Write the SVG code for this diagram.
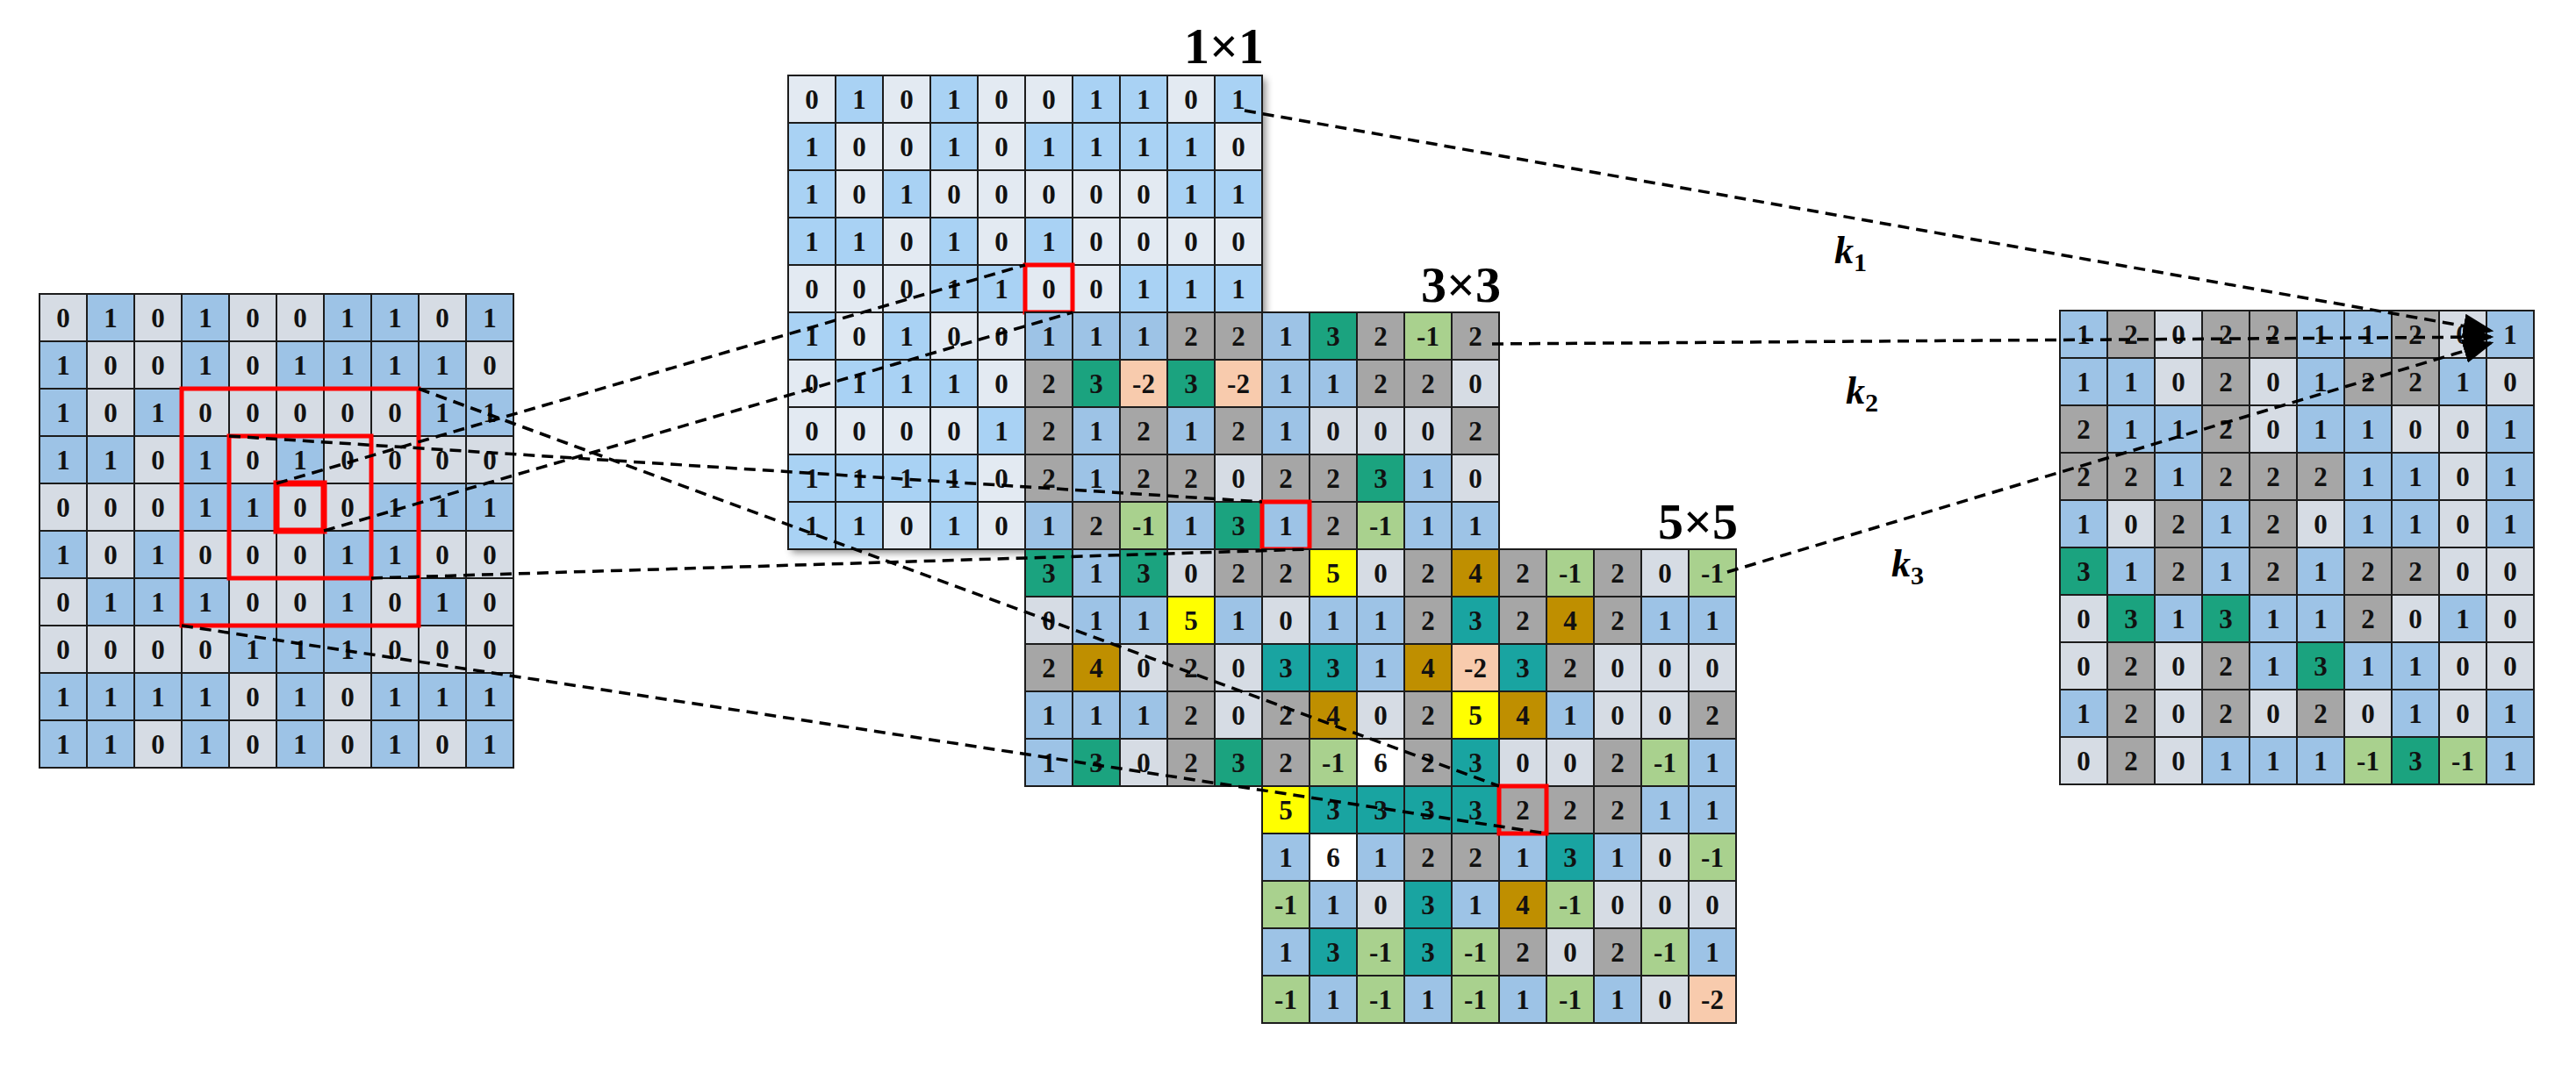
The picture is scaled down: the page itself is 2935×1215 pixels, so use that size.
<svg xmlns="http://www.w3.org/2000/svg" width="2935" height="1215" viewBox="0 0 2935 1215">
<style>
.grid rect{width:54px;height:54px;stroke:#1c1c1c;stroke-width:2}
.grid text{font-family:"Liberation Serif",serif;font-weight:bold;font-size:31px;text-anchor:middle;fill:#111}
.z{fill:#D6DCE4}.o{fill:#9DC3E6}.t{fill:#A6A6A6}.g{fill:#1BA37F}.q{fill:#19A4A1}.m{fill:#A9D18E}.p{fill:#F8CBAD}.f{fill:#BF8F00}.y{fill:#FFFF00}.w{fill:#FFFFFF}
.z2{fill:#E3EAF2}.o2{fill:#A9D2F4}
.title{font-family:"Liberation Serif",serif;font-weight:bold;font-size:58px;text-anchor:end;fill:#000}
.k{font-family:"Liberation Serif",serif;font-weight:bold;font-style:italic;font-size:44px;fill:#000}
.sub{font-style:normal;font-size:30px}
.red{fill:none;stroke:#FF0000;stroke-width:5}
.conn path{fill:none;stroke:#000;stroke-width:3.5;stroke-dasharray:13 8}
</style>
<defs>
<filter id="sh" x="-5%" y="-5%" width="115%" height="115%"><feDropShadow dx="4" dy="4" stdDeviation="4" flood-color="#000" flood-opacity="0.45"/></filter>
<marker id="ar" markerWidth="10" markerHeight="8" refX="9" refY="4" orient="auto" markerUnits="strokeWidth"><path d="M0,0 L10,4 L0,8 z" fill="#000"/></marker>
</defs>

<g id="input" class="grid" transform="translate(45,335)">
<rect class="z" x="0" y="0"/><rect class="o" x="54" y="0"/><rect class="z" x="108" y="0"/><rect class="o" x="162" y="0"/><rect class="z" x="216" y="0"/><rect class="z" x="270" y="0"/><rect class="o" x="324" y="0"/><rect class="o" x="378" y="0"/><rect class="z" x="432" y="0"/><rect class="o" x="486" y="0"/>
<rect class="o" x="0" y="54"/><rect class="z" x="54" y="54"/><rect class="z" x="108" y="54"/><rect class="o" x="162" y="54"/><rect class="z" x="216" y="54"/><rect class="o" x="270" y="54"/><rect class="o" x="324" y="54"/><rect class="o" x="378" y="54"/><rect class="o" x="432" y="54"/><rect class="z" x="486" y="54"/>
<rect class="o" x="0" y="108"/><rect class="z" x="54" y="108"/><rect class="o" x="108" y="108"/><rect class="z" x="162" y="108"/><rect class="z" x="216" y="108"/><rect class="z" x="270" y="108"/><rect class="z" x="324" y="108"/><rect class="z" x="378" y="108"/><rect class="o" x="432" y="108"/><rect class="o" x="486" y="108"/>
<rect class="o" x="0" y="162"/><rect class="o" x="54" y="162"/><rect class="z" x="108" y="162"/><rect class="o" x="162" y="162"/><rect class="z" x="216" y="162"/><rect class="o" x="270" y="162"/><rect class="z" x="324" y="162"/><rect class="z" x="378" y="162"/><rect class="z" x="432" y="162"/><rect class="z" x="486" y="162"/>
<rect class="z" x="0" y="216"/><rect class="z" x="54" y="216"/><rect class="z" x="108" y="216"/><rect class="o" x="162" y="216"/><rect class="o" x="216" y="216"/><rect class="z" x="270" y="216"/><rect class="z" x="324" y="216"/><rect class="o" x="378" y="216"/><rect class="o" x="432" y="216"/><rect class="o" x="486" y="216"/>
<rect class="o" x="0" y="270"/><rect class="z" x="54" y="270"/><rect class="o" x="108" y="270"/><rect class="z" x="162" y="270"/><rect class="z" x="216" y="270"/><rect class="z" x="270" y="270"/><rect class="o" x="324" y="270"/><rect class="o" x="378" y="270"/><rect class="z" x="432" y="270"/><rect class="z" x="486" y="270"/>
<rect class="z" x="0" y="324"/><rect class="o" x="54" y="324"/><rect class="o" x="108" y="324"/><rect class="o" x="162" y="324"/><rect class="z" x="216" y="324"/><rect class="z" x="270" y="324"/><rect class="o" x="324" y="324"/><rect class="z" x="378" y="324"/><rect class="o" x="432" y="324"/><rect class="z" x="486" y="324"/>
<rect class="z" x="0" y="378"/><rect class="z" x="54" y="378"/><rect class="z" x="108" y="378"/><rect class="z" x="162" y="378"/><rect class="o" x="216" y="378"/><rect class="o" x="270" y="378"/><rect class="o" x="324" y="378"/><rect class="z" x="378" y="378"/><rect class="z" x="432" y="378"/><rect class="z" x="486" y="378"/>
<rect class="o" x="0" y="432"/><rect class="o" x="54" y="432"/><rect class="o" x="108" y="432"/><rect class="o" x="162" y="432"/><rect class="z" x="216" y="432"/><rect class="o" x="270" y="432"/><rect class="z" x="324" y="432"/><rect class="o" x="378" y="432"/><rect class="o" x="432" y="432"/><rect class="o" x="486" y="432"/>
<rect class="o" x="0" y="486"/><rect class="o" x="54" y="486"/><rect class="z" x="108" y="486"/><rect class="o" x="162" y="486"/><rect class="z" x="216" y="486"/><rect class="o" x="270" y="486"/><rect class="z" x="324" y="486"/><rect class="o" x="378" y="486"/><rect class="z" x="432" y="486"/><rect class="o" x="486" y="486"/>
<text x="27" y="38">0</text><text x="81" y="38">1</text><text x="135" y="38">0</text><text x="189" y="38">1</text><text x="243" y="38">0</text><text x="297" y="38">0</text><text x="351" y="38">1</text><text x="405" y="38">1</text><text x="459" y="38">0</text><text x="513" y="38">1</text>
<text x="27" y="92">1</text><text x="81" y="92">0</text><text x="135" y="92">0</text><text x="189" y="92">1</text><text x="243" y="92">0</text><text x="297" y="92">1</text><text x="351" y="92">1</text><text x="405" y="92">1</text><text x="459" y="92">1</text><text x="513" y="92">0</text>
<text x="27" y="146">1</text><text x="81" y="146">0</text><text x="135" y="146">1</text><text x="189" y="146">0</text><text x="243" y="146">0</text><text x="297" y="146">0</text><text x="351" y="146">0</text><text x="405" y="146">0</text><text x="459" y="146">1</text><text x="513" y="146">1</text>
<text x="27" y="200">1</text><text x="81" y="200">1</text><text x="135" y="200">0</text><text x="189" y="200">1</text><text x="243" y="200">0</text><text x="297" y="200">1</text><text x="351" y="200">0</text><text x="405" y="200">0</text><text x="459" y="200">0</text><text x="513" y="200">0</text>
<text x="27" y="254">0</text><text x="81" y="254">0</text><text x="135" y="254">0</text><text x="189" y="254">1</text><text x="243" y="254">1</text><text x="297" y="254">0</text><text x="351" y="254">0</text><text x="405" y="254">1</text><text x="459" y="254">1</text><text x="513" y="254">1</text>
<text x="27" y="308">1</text><text x="81" y="308">0</text><text x="135" y="308">1</text><text x="189" y="308">0</text><text x="243" y="308">0</text><text x="297" y="308">0</text><text x="351" y="308">1</text><text x="405" y="308">1</text><text x="459" y="308">0</text><text x="513" y="308">0</text>
<text x="27" y="362">0</text><text x="81" y="362">1</text><text x="135" y="362">1</text><text x="189" y="362">1</text><text x="243" y="362">0</text><text x="297" y="362">0</text><text x="351" y="362">1</text><text x="405" y="362">0</text><text x="459" y="362">1</text><text x="513" y="362">0</text>
<text x="27" y="416">0</text><text x="81" y="416">0</text><text x="135" y="416">0</text><text x="189" y="416">0</text><text x="243" y="416">1</text><text x="297" y="416">1</text><text x="351" y="416">1</text><text x="405" y="416">0</text><text x="459" y="416">0</text><text x="513" y="416">0</text>
<text x="27" y="470">1</text><text x="81" y="470">1</text><text x="135" y="470">1</text><text x="189" y="470">1</text><text x="243" y="470">0</text><text x="297" y="470">1</text><text x="351" y="470">0</text><text x="405" y="470">1</text><text x="459" y="470">1</text><text x="513" y="470">1</text>
<text x="27" y="524">1</text><text x="81" y="524">1</text><text x="135" y="524">0</text><text x="189" y="524">1</text><text x="243" y="524">0</text><text x="297" y="524">1</text><text x="351" y="524">0</text><text x="405" y="524">1</text><text x="459" y="524">0</text><text x="513" y="524">1</text>
<rect class="red" x="162" y="108" style="width:270px;height:270px;stroke:#FF0000;stroke-width:5"/>
<rect class="red" x="216" y="162" style="width:162px;height:162px;stroke:#FF0000;stroke-width:5"/>
<rect class="red" x="270" y="216" style="width:54px;height:54px;stroke:#FF0000;stroke-width:7"/>
</g>

<g id="conv1x1" class="grid" transform="translate(898,86)">
<rect x="0" y="0" style="width:540px;height:540px;fill:#fff;stroke:none" filter="url(#sh)"/>
<rect class="z2" x="0" y="0"/><rect class="o2" x="54" y="0"/><rect class="z2" x="108" y="0"/><rect class="o2" x="162" y="0"/><rect class="z2" x="216" y="0"/><rect class="z2" x="270" y="0"/><rect class="o2" x="324" y="0"/><rect class="o2" x="378" y="0"/><rect class="z2" x="432" y="0"/><rect class="o2" x="486" y="0"/>
<rect class="o2" x="0" y="54"/><rect class="z2" x="54" y="54"/><rect class="z2" x="108" y="54"/><rect class="o2" x="162" y="54"/><rect class="z2" x="216" y="54"/><rect class="o2" x="270" y="54"/><rect class="o2" x="324" y="54"/><rect class="o2" x="378" y="54"/><rect class="o2" x="432" y="54"/><rect class="z2" x="486" y="54"/>
<rect class="o2" x="0" y="108"/><rect class="z2" x="54" y="108"/><rect class="o2" x="108" y="108"/><rect class="z2" x="162" y="108"/><rect class="z2" x="216" y="108"/><rect class="z2" x="270" y="108"/><rect class="z2" x="324" y="108"/><rect class="z2" x="378" y="108"/><rect class="o2" x="432" y="108"/><rect class="o2" x="486" y="108"/>
<rect class="o2" x="0" y="162"/><rect class="o2" x="54" y="162"/><rect class="z2" x="108" y="162"/><rect class="o2" x="162" y="162"/><rect class="z2" x="216" y="162"/><rect class="o2" x="270" y="162"/><rect class="z2" x="324" y="162"/><rect class="z2" x="378" y="162"/><rect class="z2" x="432" y="162"/><rect class="z2" x="486" y="162"/>
<rect class="z2" x="0" y="216"/><rect class="z2" x="54" y="216"/><rect class="z2" x="108" y="216"/><rect class="o2" x="162" y="216"/><rect class="o2" x="216" y="216"/><rect class="z2" x="270" y="216"/><rect class="z2" x="324" y="216"/><rect class="o2" x="378" y="216"/><rect class="o2" x="432" y="216"/><rect class="o2" x="486" y="216"/>
<rect class="o2" x="0" y="270"/><rect class="z2" x="54" y="270"/><rect class="o2" x="108" y="270"/><rect class="z2" x="162" y="270"/><rect class="z2" x="216" y="270"/>
<rect class="z2" x="0" y="324"/><rect class="o2" x="54" y="324"/><rect class="o2" x="108" y="324"/><rect class="o2" x="162" y="324"/><rect class="z2" x="216" y="324"/>
<rect class="z2" x="0" y="378"/><rect class="z2" x="54" y="378"/><rect class="z2" x="108" y="378"/><rect class="z2" x="162" y="378"/><rect class="o2" x="216" y="378"/>
<rect class="o2" x="0" y="432"/><rect class="o2" x="54" y="432"/><rect class="o2" x="108" y="432"/><rect class="o2" x="162" y="432"/><rect class="z2" x="216" y="432"/>
<rect class="o2" x="0" y="486"/><rect class="o2" x="54" y="486"/><rect class="z2" x="108" y="486"/><rect class="o2" x="162" y="486"/><rect class="z2" x="216" y="486"/>
<text x="27" y="38">0</text><text x="81" y="38">1</text><text x="135" y="38">0</text><text x="189" y="38">1</text><text x="243" y="38">0</text><text x="297" y="38">0</text><text x="351" y="38">1</text><text x="405" y="38">1</text><text x="459" y="38">0</text><text x="513" y="38">1</text>
<text x="27" y="92">1</text><text x="81" y="92">0</text><text x="135" y="92">0</text><text x="189" y="92">1</text><text x="243" y="92">0</text><text x="297" y="92">1</text><text x="351" y="92">1</text><text x="405" y="92">1</text><text x="459" y="92">1</text><text x="513" y="92">0</text>
<text x="27" y="146">1</text><text x="81" y="146">0</text><text x="135" y="146">1</text><text x="189" y="146">0</text><text x="243" y="146">0</text><text x="297" y="146">0</text><text x="351" y="146">0</text><text x="405" y="146">0</text><text x="459" y="146">1</text><text x="513" y="146">1</text>
<text x="27" y="200">1</text><text x="81" y="200">1</text><text x="135" y="200">0</text><text x="189" y="200">1</text><text x="243" y="200">0</text><text x="297" y="200">1</text><text x="351" y="200">0</text><text x="405" y="200">0</text><text x="459" y="200">0</text><text x="513" y="200">0</text>
<text x="27" y="254">0</text><text x="81" y="254">0</text><text x="135" y="254">0</text><text x="189" y="254">1</text><text x="243" y="254">1</text><text x="297" y="254">0</text><text x="351" y="254">0</text><text x="405" y="254">1</text><text x="459" y="254">1</text><text x="513" y="254">1</text>
<text x="27" y="308">1</text><text x="81" y="308">0</text><text x="135" y="308">1</text><text x="189" y="308">0</text><text x="243" y="308">0</text>
<text x="27" y="362">0</text><text x="81" y="362">1</text><text x="135" y="362">1</text><text x="189" y="362">1</text><text x="243" y="362">0</text>
<text x="27" y="416">0</text><text x="81" y="416">0</text><text x="135" y="416">0</text><text x="189" y="416">0</text><text x="243" y="416">1</text>
<text x="27" y="470">1</text><text x="81" y="470">1</text><text x="135" y="470">1</text><text x="189" y="470">1</text><text x="243" y="470">0</text>
<text x="27" y="524">1</text><text x="81" y="524">1</text><text x="135" y="524">0</text><text x="189" y="524">1</text><text x="243" y="524">0</text>
<rect x="270" y="216" style="fill:none;stroke:#FF0000;stroke-width:5"/>
</g>
<text id="t1" class="title" x="1440" y="72">1×1</text>

<g id="conv3x3" class="grid" transform="translate(1168,356)">
<rect class="o" x="0" y="0"/><rect class="o" x="54" y="0"/><rect class="o" x="108" y="0"/><rect class="t" x="162" y="0"/><rect class="t" x="216" y="0"/><rect class="o" x="270" y="0"/><rect class="g" x="324" y="0"/><rect class="t" x="378" y="0"/><rect class="m" x="432" y="0"/><rect class="t" x="486" y="0"/>
<rect class="t" x="0" y="54"/><rect class="g" x="54" y="54"/><rect class="p" x="108" y="54"/><rect class="g" x="162" y="54"/><rect class="p" x="216" y="54"/><rect class="o" x="270" y="54"/><rect class="o" x="324" y="54"/><rect class="t" x="378" y="54"/><rect class="t" x="432" y="54"/><rect class="z" x="486" y="54"/>
<rect class="t" x="0" y="108"/><rect class="o" x="54" y="108"/><rect class="t" x="108" y="108"/><rect class="o" x="162" y="108"/><rect class="t" x="216" y="108"/><rect class="o" x="270" y="108"/><rect class="z" x="324" y="108"/><rect class="z" x="378" y="108"/><rect class="z" x="432" y="108"/><rect class="t" x="486" y="108"/>
<rect class="t" x="0" y="162"/><rect class="o" x="54" y="162"/><rect class="t" x="108" y="162"/><rect class="t" x="162" y="162"/><rect class="z" x="216" y="162"/><rect class="t" x="270" y="162"/><rect class="t" x="324" y="162"/><rect class="g" x="378" y="162"/><rect class="o" x="432" y="162"/><rect class="z" x="486" y="162"/>
<rect class="o" x="0" y="216"/><rect class="t" x="54" y="216"/><rect class="m" x="108" y="216"/><rect class="o" x="162" y="216"/><rect class="g" x="216" y="216"/><rect class="o" x="270" y="216"/><rect class="t" x="324" y="216"/><rect class="m" x="378" y="216"/><rect class="o" x="432" y="216"/><rect class="o" x="486" y="216"/>
<rect class="g" x="0" y="270"/><rect class="o" x="54" y="270"/><rect class="g" x="108" y="270"/><rect class="z" x="162" y="270"/><rect class="t" x="216" y="270"/>
<rect class="z" x="0" y="324"/><rect class="o" x="54" y="324"/><rect class="o" x="108" y="324"/><rect class="y" x="162" y="324"/><rect class="o" x="216" y="324"/>
<rect class="t" x="0" y="378"/><rect class="f" x="54" y="378"/><rect class="z" x="108" y="378"/><rect class="t" x="162" y="378"/><rect class="z" x="216" y="378"/>
<rect class="o" x="0" y="432"/><rect class="o" x="54" y="432"/><rect class="o" x="108" y="432"/><rect class="t" x="162" y="432"/><rect class="z" x="216" y="432"/>
<rect class="o" x="0" y="486"/><rect class="g" x="54" y="486"/><rect class="z" x="108" y="486"/><rect class="t" x="162" y="486"/><rect class="g" x="216" y="486"/>
<text x="27" y="38">1</text><text x="81" y="38">1</text><text x="135" y="38">1</text><text x="189" y="38">2</text><text x="243" y="38">2</text><text x="297" y="38">1</text><text x="351" y="38">3</text><text x="405" y="38">2</text><text x="459" y="38">-1</text><text x="513" y="38">2</text>
<text x="27" y="92">2</text><text x="81" y="92">3</text><text x="135" y="92">-2</text><text x="189" y="92">3</text><text x="243" y="92">-2</text><text x="297" y="92">1</text><text x="351" y="92">1</text><text x="405" y="92">2</text><text x="459" y="92">2</text><text x="513" y="92">0</text>
<text x="27" y="146">2</text><text x="81" y="146">1</text><text x="135" y="146">2</text><text x="189" y="146">1</text><text x="243" y="146">2</text><text x="297" y="146">1</text><text x="351" y="146">0</text><text x="405" y="146">0</text><text x="459" y="146">0</text><text x="513" y="146">2</text>
<text x="27" y="200">2</text><text x="81" y="200">1</text><text x="135" y="200">2</text><text x="189" y="200">2</text><text x="243" y="200">0</text><text x="297" y="200">2</text><text x="351" y="200">2</text><text x="405" y="200">3</text><text x="459" y="200">1</text><text x="513" y="200">0</text>
<text x="27" y="254">1</text><text x="81" y="254">2</text><text x="135" y="254">-1</text><text x="189" y="254">1</text><text x="243" y="254">3</text><text x="297" y="254">1</text><text x="351" y="254">2</text><text x="405" y="254">-1</text><text x="459" y="254">1</text><text x="513" y="254">1</text>
<text x="27" y="308">3</text><text x="81" y="308">1</text><text x="135" y="308">3</text><text x="189" y="308">0</text><text x="243" y="308">2</text>
<text x="27" y="362">0</text><text x="81" y="362">1</text><text x="135" y="362">1</text><text x="189" y="362">5</text><text x="243" y="362">1</text>
<text x="27" y="416">2</text><text x="81" y="416">4</text><text x="135" y="416">0</text><text x="189" y="416">2</text><text x="243" y="416">0</text>
<text x="27" y="470">1</text><text x="81" y="470">1</text><text x="135" y="470">1</text><text x="189" y="470">2</text><text x="243" y="470">0</text>
<text x="27" y="524">1</text><text x="81" y="524">3</text><text x="135" y="524">0</text><text x="189" y="524">2</text><text x="243" y="524">3</text>
<rect x="270" y="216" style="fill:none;stroke:#FF0000;stroke-width:5"/>
</g>
<text id="t3" class="title" x="1710" y="344">3×3</text>

<g id="conv5x5" class="grid" transform="translate(1438,626)">
<rect class="t" x="0" y="0"/><rect class="y" x="54" y="0"/><rect class="z" x="108" y="0"/><rect class="t" x="162" y="0"/><rect class="f" x="216" y="0"/><rect class="t" x="270" y="0"/><rect class="m" x="324" y="0"/><rect class="t" x="378" y="0"/><rect class="z" x="432" y="0"/><rect class="m" x="486" y="0"/>
<rect class="z" x="0" y="54"/><rect class="o" x="54" y="54"/><rect class="o" x="108" y="54"/><rect class="t" x="162" y="54"/><rect class="q" x="216" y="54"/><rect class="t" x="270" y="54"/><rect class="f" x="324" y="54"/><rect class="t" x="378" y="54"/><rect class="o" x="432" y="54"/><rect class="o" x="486" y="54"/>
<rect class="q" x="0" y="108"/><rect class="q" x="54" y="108"/><rect class="o" x="108" y="108"/><rect class="f" x="162" y="108"/><rect class="p" x="216" y="108"/><rect class="q" x="270" y="108"/><rect class="t" x="324" y="108"/><rect class="z" x="378" y="108"/><rect class="z" x="432" y="108"/><rect class="z" x="486" y="108"/>
<rect class="t" x="0" y="162"/><rect class="f" x="54" y="162"/><rect class="z" x="108" y="162"/><rect class="t" x="162" y="162"/><rect class="y" x="216" y="162"/><rect class="f" x="270" y="162"/><rect class="o" x="324" y="162"/><rect class="z" x="378" y="162"/><rect class="z" x="432" y="162"/><rect class="t" x="486" y="162"/>
<rect class="t" x="0" y="216"/><rect class="m" x="54" y="216"/><rect class="w" x="108" y="216"/><rect class="t" x="162" y="216"/><rect class="q" x="216" y="216"/><rect class="z" x="270" y="216"/><rect class="z" x="324" y="216"/><rect class="t" x="378" y="216"/><rect class="m" x="432" y="216"/><rect class="o" x="486" y="216"/>
<rect class="y" x="0" y="270"/><rect class="q" x="54" y="270"/><rect class="q" x="108" y="270"/><rect class="q" x="162" y="270"/><rect class="q" x="216" y="270"/><rect class="t" x="270" y="270"/><rect class="t" x="324" y="270"/><rect class="t" x="378" y="270"/><rect class="o" x="432" y="270"/><rect class="o" x="486" y="270"/>
<rect class="o" x="0" y="324"/><rect class="w" x="54" y="324"/><rect class="o" x="108" y="324"/><rect class="t" x="162" y="324"/><rect class="t" x="216" y="324"/><rect class="o" x="270" y="324"/><rect class="q" x="324" y="324"/><rect class="o" x="378" y="324"/><rect class="z" x="432" y="324"/><rect class="m" x="486" y="324"/>
<rect class="m" x="0" y="378"/><rect class="o" x="54" y="378"/><rect class="z" x="108" y="378"/><rect class="q" x="162" y="378"/><rect class="o" x="216" y="378"/><rect class="f" x="270" y="378"/><rect class="m" x="324" y="378"/><rect class="z" x="378" y="378"/><rect class="z" x="432" y="378"/><rect class="z" x="486" y="378"/>
<rect class="o" x="0" y="432"/><rect class="q" x="54" y="432"/><rect class="m" x="108" y="432"/><rect class="q" x="162" y="432"/><rect class="m" x="216" y="432"/><rect class="t" x="270" y="432"/><rect class="z" x="324" y="432"/><rect class="t" x="378" y="432"/><rect class="m" x="432" y="432"/><rect class="o" x="486" y="432"/>
<rect class="m" x="0" y="486"/><rect class="o" x="54" y="486"/><rect class="m" x="108" y="486"/><rect class="o" x="162" y="486"/><rect class="m" x="216" y="486"/><rect class="o" x="270" y="486"/><rect class="m" x="324" y="486"/><rect class="o" x="378" y="486"/><rect class="z" x="432" y="486"/><rect class="p" x="486" y="486"/>
<text x="27" y="38">2</text><text x="81" y="38">5</text><text x="135" y="38">0</text><text x="189" y="38">2</text><text x="243" y="38">4</text><text x="297" y="38">2</text><text x="351" y="38">-1</text><text x="405" y="38">2</text><text x="459" y="38">0</text><text x="513" y="38">-1</text>
<text x="27" y="92">0</text><text x="81" y="92">1</text><text x="135" y="92">1</text><text x="189" y="92">2</text><text x="243" y="92">3</text><text x="297" y="92">2</text><text x="351" y="92">4</text><text x="405" y="92">2</text><text x="459" y="92">1</text><text x="513" y="92">1</text>
<text x="27" y="146">3</text><text x="81" y="146">3</text><text x="135" y="146">1</text><text x="189" y="146">4</text><text x="243" y="146">-2</text><text x="297" y="146">3</text><text x="351" y="146">2</text><text x="405" y="146">0</text><text x="459" y="146">0</text><text x="513" y="146">0</text>
<text x="27" y="200">2</text><text x="81" y="200">4</text><text x="135" y="200">0</text><text x="189" y="200">2</text><text x="243" y="200">5</text><text x="297" y="200">4</text><text x="351" y="200">1</text><text x="405" y="200">0</text><text x="459" y="200">0</text><text x="513" y="200">2</text>
<text x="27" y="254">2</text><text x="81" y="254">-1</text><text x="135" y="254">6</text><text x="189" y="254">2</text><text x="243" y="254">3</text><text x="297" y="254">0</text><text x="351" y="254">0</text><text x="405" y="254">2</text><text x="459" y="254">-1</text><text x="513" y="254">1</text>
<text x="27" y="308">5</text><text x="81" y="308">3</text><text x="135" y="308">3</text><text x="189" y="308">3</text><text x="243" y="308">3</text><text x="297" y="308">2</text><text x="351" y="308">2</text><text x="405" y="308">2</text><text x="459" y="308">1</text><text x="513" y="308">1</text>
<text x="27" y="362">1</text><text x="81" y="362">6</text><text x="135" y="362">1</text><text x="189" y="362">2</text><text x="243" y="362">2</text><text x="297" y="362">1</text><text x="351" y="362">3</text><text x="405" y="362">1</text><text x="459" y="362">0</text><text x="513" y="362">-1</text>
<text x="27" y="416">-1</text><text x="81" y="416">1</text><text x="135" y="416">0</text><text x="189" y="416">3</text><text x="243" y="416">1</text><text x="297" y="416">4</text><text x="351" y="416">-1</text><text x="405" y="416">0</text><text x="459" y="416">0</text><text x="513" y="416">0</text>
<text x="27" y="470">1</text><text x="81" y="470">3</text><text x="135" y="470">-1</text><text x="189" y="470">3</text><text x="243" y="470">-1</text><text x="297" y="470">2</text><text x="351" y="470">0</text><text x="405" y="470">2</text><text x="459" y="470">-1</text><text x="513" y="470">1</text>
<text x="27" y="524">-1</text><text x="81" y="524">1</text><text x="135" y="524">-1</text><text x="189" y="524">1</text><text x="243" y="524">-1</text><text x="297" y="524">1</text><text x="351" y="524">-1</text><text x="405" y="524">1</text><text x="459" y="524">0</text><text x="513" y="524">-2</text>
<rect x="270" y="270" style="fill:none;stroke:#FF0000;stroke-width:5"/>
</g>
<text id="t5" class="title" x="1980" y="614">5×5</text>

<g id="output" class="grid" transform="translate(2347,354)">
<rect class="o" x="0" y="0"/><rect class="t" x="54" y="0"/><rect class="z" x="108" y="0"/><rect class="t" x="162" y="0"/><rect class="t" x="216" y="0"/><rect class="o" x="270" y="0"/><rect class="o" x="324" y="0"/><rect class="t" x="378" y="0"/><rect class="z" x="432" y="0"/><rect class="o" x="486" y="0"/>
<rect class="o" x="0" y="54"/><rect class="o" x="54" y="54"/><rect class="z" x="108" y="54"/><rect class="t" x="162" y="54"/><rect class="z" x="216" y="54"/><rect class="o" x="270" y="54"/><rect class="t" x="324" y="54"/><rect class="t" x="378" y="54"/><rect class="o" x="432" y="54"/><rect class="z" x="486" y="54"/>
<rect class="t" x="0" y="108"/><rect class="o" x="54" y="108"/><rect class="o" x="108" y="108"/><rect class="t" x="162" y="108"/><rect class="z" x="216" y="108"/><rect class="o" x="270" y="108"/><rect class="o" x="324" y="108"/><rect class="z" x="378" y="108"/><rect class="z" x="432" y="108"/><rect class="o" x="486" y="108"/>
<rect class="t" x="0" y="162"/><rect class="t" x="54" y="162"/><rect class="o" x="108" y="162"/><rect class="t" x="162" y="162"/><rect class="t" x="216" y="162"/><rect class="t" x="270" y="162"/><rect class="o" x="324" y="162"/><rect class="o" x="378" y="162"/><rect class="z" x="432" y="162"/><rect class="o" x="486" y="162"/>
<rect class="o" x="0" y="216"/><rect class="z" x="54" y="216"/><rect class="t" x="108" y="216"/><rect class="o" x="162" y="216"/><rect class="t" x="216" y="216"/><rect class="z" x="270" y="216"/><rect class="o" x="324" y="216"/><rect class="o" x="378" y="216"/><rect class="z" x="432" y="216"/><rect class="o" x="486" y="216"/>
<rect class="g" x="0" y="270"/><rect class="o" x="54" y="270"/><rect class="t" x="108" y="270"/><rect class="o" x="162" y="270"/><rect class="t" x="216" y="270"/><rect class="o" x="270" y="270"/><rect class="t" x="324" y="270"/><rect class="t" x="378" y="270"/><rect class="z" x="432" y="270"/><rect class="z" x="486" y="270"/>
<rect class="z" x="0" y="324"/><rect class="g" x="54" y="324"/><rect class="o" x="108" y="324"/><rect class="g" x="162" y="324"/><rect class="o" x="216" y="324"/><rect class="o" x="270" y="324"/><rect class="t" x="324" y="324"/><rect class="z" x="378" y="324"/><rect class="o" x="432" y="324"/><rect class="z" x="486" y="324"/>
<rect class="z" x="0" y="378"/><rect class="t" x="54" y="378"/><rect class="z" x="108" y="378"/><rect class="t" x="162" y="378"/><rect class="o" x="216" y="378"/><rect class="g" x="270" y="378"/><rect class="o" x="324" y="378"/><rect class="o" x="378" y="378"/><rect class="z" x="432" y="378"/><rect class="z" x="486" y="378"/>
<rect class="o" x="0" y="432"/><rect class="t" x="54" y="432"/><rect class="z" x="108" y="432"/><rect class="t" x="162" y="432"/><rect class="z" x="216" y="432"/><rect class="t" x="270" y="432"/><rect class="z" x="324" y="432"/><rect class="o" x="378" y="432"/><rect class="z" x="432" y="432"/><rect class="o" x="486" y="432"/>
<rect class="z" x="0" y="486"/><rect class="t" x="54" y="486"/><rect class="z" x="108" y="486"/><rect class="o" x="162" y="486"/><rect class="o" x="216" y="486"/><rect class="o" x="270" y="486"/><rect class="m" x="324" y="486"/><rect class="g" x="378" y="486"/><rect class="m" x="432" y="486"/><rect class="o" x="486" y="486"/>
<text x="27" y="38">1</text><text x="81" y="38">2</text><text x="135" y="38">0</text><text x="189" y="38">2</text><text x="243" y="38">2</text><text x="297" y="38">1</text><text x="351" y="38">1</text><text x="405" y="38">2</text><text x="459" y="38">0</text><text x="513" y="38">1</text>
<text x="27" y="92">1</text><text x="81" y="92">1</text><text x="135" y="92">0</text><text x="189" y="92">2</text><text x="243" y="92">0</text><text x="297" y="92">1</text><text x="351" y="92">2</text><text x="405" y="92">2</text><text x="459" y="92">1</text><text x="513" y="92">0</text>
<text x="27" y="146">2</text><text x="81" y="146">1</text><text x="135" y="146">1</text><text x="189" y="146">2</text><text x="243" y="146">0</text><text x="297" y="146">1</text><text x="351" y="146">1</text><text x="405" y="146">0</text><text x="459" y="146">0</text><text x="513" y="146">1</text>
<text x="27" y="200">2</text><text x="81" y="200">2</text><text x="135" y="200">1</text><text x="189" y="200">2</text><text x="243" y="200">2</text><text x="297" y="200">2</text><text x="351" y="200">1</text><text x="405" y="200">1</text><text x="459" y="200">0</text><text x="513" y="200">1</text>
<text x="27" y="254">1</text><text x="81" y="254">0</text><text x="135" y="254">2</text><text x="189" y="254">1</text><text x="243" y="254">2</text><text x="297" y="254">0</text><text x="351" y="254">1</text><text x="405" y="254">1</text><text x="459" y="254">0</text><text x="513" y="254">1</text>
<text x="27" y="308">3</text><text x="81" y="308">1</text><text x="135" y="308">2</text><text x="189" y="308">1</text><text x="243" y="308">2</text><text x="297" y="308">1</text><text x="351" y="308">2</text><text x="405" y="308">2</text><text x="459" y="308">0</text><text x="513" y="308">0</text>
<text x="27" y="362">0</text><text x="81" y="362">3</text><text x="135" y="362">1</text><text x="189" y="362">3</text><text x="243" y="362">1</text><text x="297" y="362">1</text><text x="351" y="362">2</text><text x="405" y="362">0</text><text x="459" y="362">1</text><text x="513" y="362">0</text>
<text x="27" y="416">0</text><text x="81" y="416">2</text><text x="135" y="416">0</text><text x="189" y="416">2</text><text x="243" y="416">1</text><text x="297" y="416">3</text><text x="351" y="416">1</text><text x="405" y="416">1</text><text x="459" y="416">0</text><text x="513" y="416">0</text>
<text x="27" y="470">1</text><text x="81" y="470">2</text><text x="135" y="470">0</text><text x="189" y="470">2</text><text x="243" y="470">0</text><text x="297" y="470">2</text><text x="351" y="470">0</text><text x="405" y="470">1</text><text x="459" y="470">0</text><text x="513" y="470">1</text>
<text x="27" y="524">0</text><text x="81" y="524">2</text><text x="135" y="524">0</text><text x="189" y="524">1</text><text x="243" y="524">1</text><text x="297" y="524">1</text><text x="351" y="524">-1</text><text x="405" y="524">3</text><text x="459" y="524">-1</text><text x="513" y="524">1</text>
</g>

<g id="connectors" class="conn">
<path d="M315,551 L1168,302"/>
<path d="M369,605 L1222,356"/>
<path d="M261,497 L1438,572"/>
<path d="M423,659 L1492,626"/>
<path d="M477,443 L1708,896"/>
<path d="M207,713 L1762,950"/>
<path d="M1418,126 L2838,377" marker-end="url(#ar)"/>
<path d="M1700,392 L2838,384" marker-end="url(#ar)"/>
<path d="M1968,652 L2838,391" marker-end="url(#ar)"/>
</g>

<g id="labels">
<text class="k" x="2090" y="300">k<tspan class="sub" dy="9">1</tspan></text>
<text class="k" x="2103" y="460">k<tspan class="sub" dy="9">2</tspan></text>
<text class="k" x="2155" y="657">k<tspan class="sub" dy="9">3</tspan></text>
</g>
</svg>
